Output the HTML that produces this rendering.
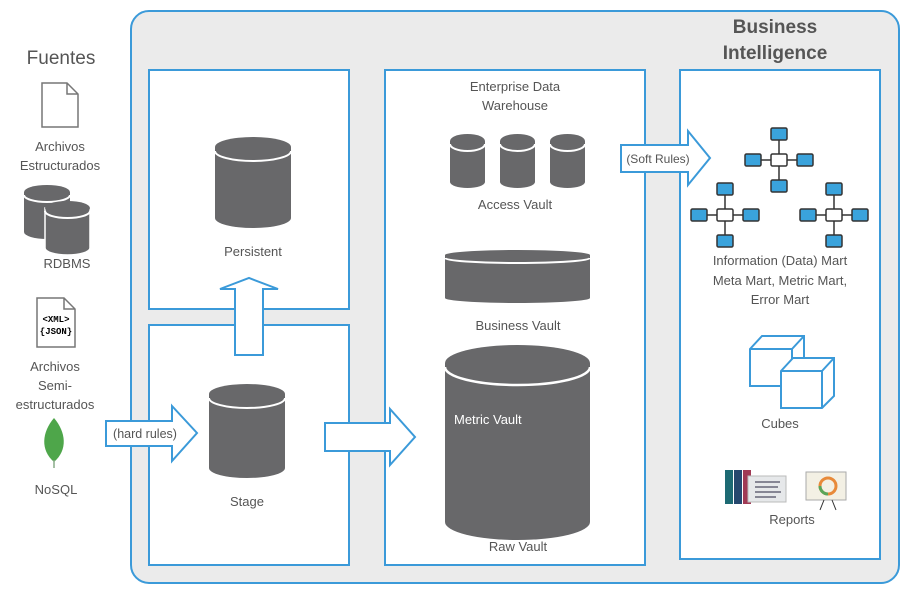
<!DOCTYPE html>
<html><head><meta charset="utf-8"><style>
html,body{margin:0;padding:0;background:#fff;}
svg{display:block;font-family:"Liberation Sans",sans-serif;}
</style></head><body>
<svg width="910" height="595" viewBox="0 0 910 595" xmlns="http://www.w3.org/2000/svg">
<rect x="131" y="11" width="768" height="572" rx="18" fill="#ebebeb" stroke="#3b9ad9" stroke-width="2"/>
<g fill="#fff" stroke="#3b9ad9" stroke-width="2">
<rect x="149" y="70" width="200" height="239"/>
<rect x="149" y="325" width="200" height="240"/>
<rect x="385" y="70" width="260" height="495"/>
<rect x="680" y="70" width="200" height="489"/>
</g>
<g fill="#555" font-weight="bold" font-size="19" text-anchor="middle">
<text x="775" y="33">Business</text><text x="775" y="59">Intelligence</text>
</g>
<text x="61" y="64" font-size="19" fill="#555" text-anchor="middle">Fuentes</text>
<g font-size="13" fill="#555" text-anchor="middle">
<text x="60" y="151">Archivos</text><text x="60" y="170">Estructurados</text>
<text x="67" y="268">RDBMS</text>
<text x="55" y="371">Archivos</text><text x="55" y="390">Semi-</text><text x="55" y="409">estructurados</text>
<text x="56" y="494">NoSQL</text>
<text x="253" y="256">Persistent</text>
<text x="247" y="506">Stage</text>
<text x="515" y="91">Enterprise Data</text><text x="515" y="110">Warehouse</text>
<text x="515" y="209">Access Vault</text>
<text x="518" y="330">Business Vault</text>
<text x="518" y="551">Raw Vault</text>
<text x="780" y="265">Information (Data) Mart</text>
<text x="780" y="285">Meta Mart, Metric Mart,</text>
<text x="780" y="304">Error Mart</text>
<text x="780" y="428">Cubes</text>
<text x="792" y="524">Reports</text>
</g>
<path d="M42 83 H67 L78 94 V127 H42 Z M67 83 V94 H78" fill="#fff" stroke="#777" stroke-width="1.5"/>
<path d="M37 298 H64 L75 309 V347 H37 Z M64 298 V309 H75" fill="#fff" stroke="#777" stroke-width="1.5"/>
<text x="56" y="322" font-size="9" font-weight="bold" text-anchor="middle" font-family="Liberation Mono,monospace">&lt;XML&gt;</text>
<text x="56" y="334" font-size="9" font-weight="bold" text-anchor="middle" font-family="Liberation Mono,monospace">{JSON}</text>
<path d="M54 418 C42 432 40 450 54 462 C68 450 66 432 54 418 Z" fill="#4ea64a"/>
<path d="M54 460 V468" stroke="#8a8" stroke-width="1.5"/>
<g fill="#68686a">
<path d="M24 192 V232 A23 7 0 0 0 70 232 V192 Z"/><ellipse cx="47" cy="192" rx="23" ry="7"/>
<path d="M24 195 A23 7 0 0 0 70 195" fill="none" stroke="#fff" stroke-width="2"/>
<path d="M45 208 V248 A22.5 7 0 0 0 90 248 V208 Z" stroke="#fff" stroke-width="1.5"/><ellipse cx="67.5" cy="208" rx="22.5" ry="7"/>
<path d="M45 211 A22.5 7 0 0 0 90 211" fill="none" stroke="#fff" stroke-width="2"/>
<path d="M215 147 V218 A38 10 0 0 0 291 218 V147 Z"/><ellipse cx="253" cy="147" rx="38" ry="10"/>
<path d="M215 151 A38 10 0 0 0 291 151" fill="none" stroke="#fff" stroke-width="2"/>
<path d="M209 394 V468 A38 10 0 0 0 285 468 V394 Z"/><ellipse cx="247" cy="394" rx="38" ry="10"/>
<path d="M209 398 A38 10 0 0 0 285 398" fill="none" stroke="#fff" stroke-width="2"/>
<path d="M450 141 V182 A17.5 6 0 0 0 485 182 V141 Z"/><ellipse cx="467.5" cy="141" rx="17.5" ry="7"/>
<path d="M450 144 A17.5 7 0 0 0 485 144" fill="none" stroke="#fff" stroke-width="2"/>
<path d="M500 141 V182 A17.5 6 0 0 0 535 182 V141 Z"/><ellipse cx="517.5" cy="141" rx="17.5" ry="7"/>
<path d="M500 144 A17.5 7 0 0 0 535 144" fill="none" stroke="#fff" stroke-width="2"/>
<path d="M550 141 V182 A17.5 6 0 0 0 585 182 V141 Z"/><ellipse cx="567.5" cy="141" rx="17.5" ry="7"/>
<path d="M550 144 A17.5 7 0 0 0 585 144" fill="none" stroke="#fff" stroke-width="2"/>
<path d="M445 255 V298 A72.5 5 0 0 0 590 298 V255 Z"/><ellipse cx="517.5" cy="255" rx="72.5" ry="5"/>
<path d="M445 258 A72.5 5 0 0 0 590 258" fill="none" stroke="#fff" stroke-width="2"/>
<path d="M445 363 V522 A72.5 18 0 0 0 590 522 V363 Z"/><ellipse cx="517.5" cy="363" rx="72.5" ry="18"/>
<path d="M445 367 A72.5 18 0 0 0 590 367" fill="none" stroke="#fff" stroke-width="2.5"/>
</g>
<text x="454" y="424" font-size="13" fill="#fff">Metric Vault</text>
<g fill="#fff" stroke="#3b9ad9" stroke-width="2">
<path d="M235 355 V289 H220 L249 278 L278 289 H263 V355 Z"/>
<path d="M106 421 H172 V406 L197 433 L172 461 V446 H106 Z"/>
<path d="M325 423 H390 V409 L415 437 L390 465 V451 H325 Z"/>
<path d="M621 145 H688 V131 L710 158 L688 185 V172 H621 Z"/>
</g>
<text x="145" y="438" font-size="12.5" fill="#555" text-anchor="middle">(hard rules)</text>
<text x="658" y="163" font-size="12" fill="#555" text-anchor="middle">(Soft Rules)</text>
<defs>
<g id="star">
<path d="M0 -20 V20 M-20 0 H20" stroke="#333" stroke-width="1.5"/>
<rect x="-8" y="-6" width="16" height="12" rx="1.5" fill="#fff" stroke="#333" stroke-width="1.5"/>
<g fill="#3aa3dc" stroke="#333" stroke-width="1.5">
<rect x="-8" y="-32" width="16" height="12" rx="1.5"/>
<rect x="-8" y="20" width="16" height="12" rx="1.5"/>
<rect x="-34" y="-6" width="16" height="12" rx="1.5"/>
<rect x="18" y="-6" width="16" height="12" rx="1.5"/>
</g>
</g>
</defs>
<use href="#star" x="779" y="160"/>
<use href="#star" x="725" y="215"/>
<use href="#star" x="834" y="215"/>
<g fill="#fff" stroke="#3b9ad9" stroke-width="2">
<path d="M750 349 L762 336 H804 V373 L792 386 H750 Z M750 349 H792 V386 M792 349 L804 336"/>
<path d="M781 371 L793 358 H834 V396 L822 408 H781 Z M781 371 H822 V408 M822 371 L834 358"/>
</g>
<rect x="725" y="470" width="8" height="34" fill="#1d6a73"/>
<rect x="734" y="470" width="8" height="34" fill="#26486e"/>
<rect x="743" y="470" width="8" height="34" fill="#a03a55"/>
<rect x="748" y="476" width="38" height="26" fill="#e6e8ea" stroke="#bbb"/>
<g stroke="#667" stroke-width="1.5"><path d="M755 482 H780 M755 487 H778 M755 492 H781 M755 497 H776"/></g>
<rect x="806" y="472" width="40" height="28" fill="#f3f0e4" stroke="#aaa"/>
<circle cx="828" cy="486" r="8" fill="none" stroke="#e88a3a" stroke-width="3"/>
<path d="M820 486 A8 8 0 0 0 828 494" fill="none" stroke="#5aa65a" stroke-width="3"/>
<path d="M824 500 L820 510 M832 500 L836 510" stroke="#333"/>
</svg>
</body></html>
